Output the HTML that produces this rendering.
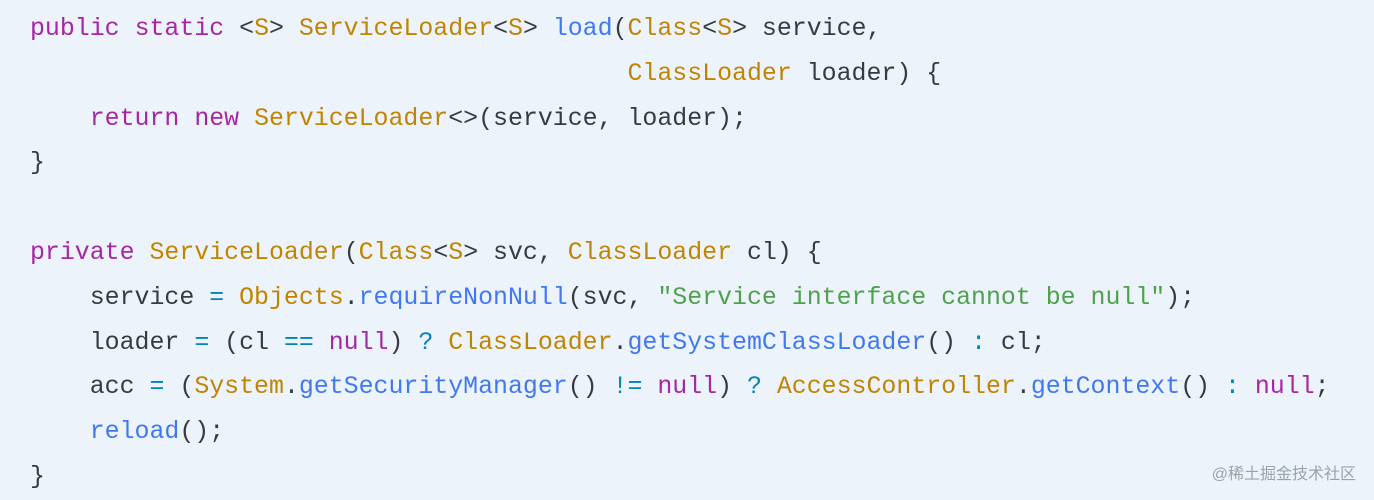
<!DOCTYPE html>
<html><head><meta charset="utf-8"><style>
html,body{margin:0;padding:0;}
body{width:1374px;height:499px;background:#edf3fa;overflow:hidden;position:relative;}
pre{margin:0;position:absolute;left:30px;top:7px;font-family:"Liberation Mono",monospace;font-size:24.9px;line-height:44.8px;color:#383a42;}
.k{color:#a626a4}.t{color:#c18401}.f{color:#4078f2}.s{color:#50a14f}.o{color:#0184bc}
.wm{position:absolute;right:18px;top:460px;font-family:"Liberation Sans","Noto Sans CJK SC",sans-serif;font-size:16px;color:#9aa3ad;}
</style></head><body>
<pre><span class="k">public</span> <span class="k">static</span> &lt;<span class="t">S</span>&gt; <span class="t">ServiceLoader</span>&lt;<span class="t">S</span>&gt; <span class="f">load</span>(<span class="t">Class</span>&lt;<span class="t">S</span>&gt; service,
                                        <span class="t">ClassLoader</span> loader) {
    <span class="k">return</span> <span class="k">new</span> <span class="t">ServiceLoader</span>&lt;&gt;(service, loader);
}

<span class="k">private</span> <span class="t">ServiceLoader</span>(<span class="t">Class</span>&lt;<span class="t">S</span>&gt; svc, <span class="t">ClassLoader</span> cl) {
    service <span class="o">=</span> <span class="t">Objects</span>.<span class="f">requireNonNull</span>(svc, <span class="s">"Service interface cannot be null"</span>);
    loader <span class="o">=</span> (cl <span class="o">==</span> <span class="k">null</span>) <span class="o">?</span> <span class="t">ClassLoader</span>.<span class="f">getSystemClassLoader</span>() <span class="o">:</span> cl;
    acc <span class="o">=</span> (<span class="t">System</span>.<span class="f">getSecurityManager</span>() <span class="o">!=</span> <span class="k">null</span>) <span class="o">?</span> <span class="t">AccessController</span>.<span class="f">getContext</span>() <span class="o">:</span> <span class="k">null</span>;
    <span class="f">reload</span>();
}</pre>
<div class="wm">@稀土掘金技术社区</div>
</body></html>
